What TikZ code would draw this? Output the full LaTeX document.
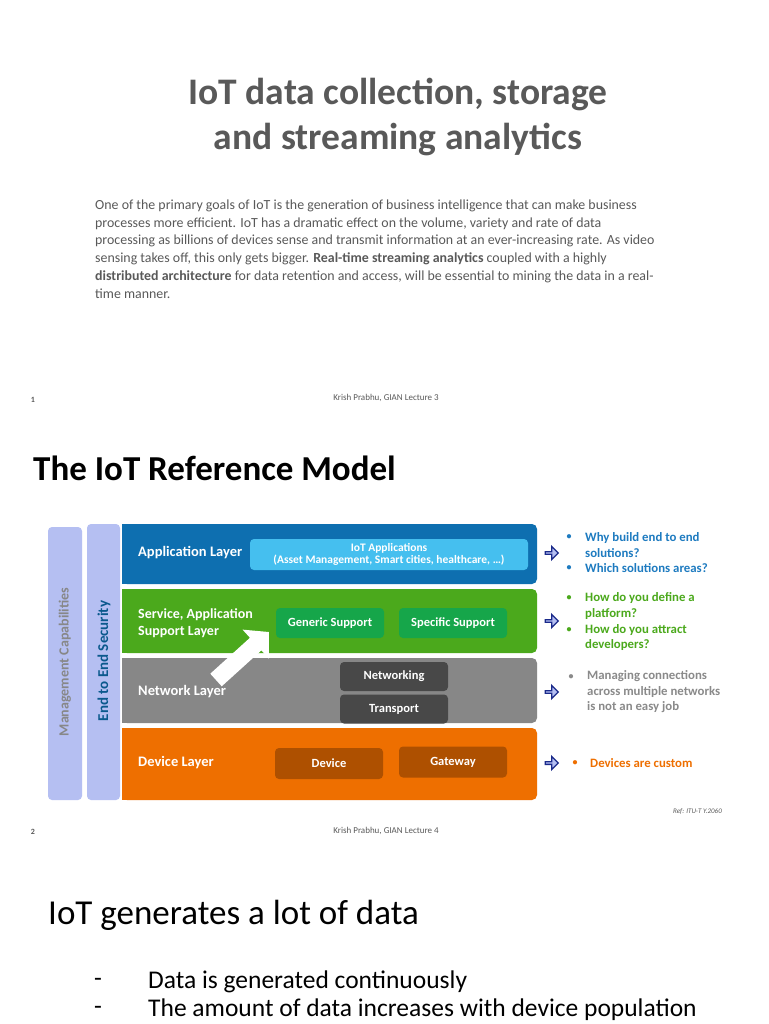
\documentclass[tikz,border=0pt]{standalone}
\usepackage{fontspec}
\setmainfont{Carlito}
\usetikzlibrary{shapes.arrows,arrows.meta}
\definecolor{tgray}{HTML}{595959}
\definecolor{appblue}{HTML}{0E6FB0}
\definecolor{lblue}{HTML}{45BFEF}
\definecolor{sgreen}{HTML}{4BA91C}
\definecolor{dgreen}{HTML}{16A64A}
\definecolor{ngray}{HTML}{878787}
\definecolor{dgray}{HTML}{484848}
\definecolor{dorange}{HTML}{EE6F00}
\definecolor{brown}{HTML}{AE5000}
\definecolor{lav}{HTML}{B5BFF2}
\definecolor{qblue}{HTML}{1E7BC0}
\definecolor{qgray}{HTML}{8A8A8A}
\definecolor{arrblue}{HTML}{1A2A8A}
\tikzset{
 txt/.style={anchor=west,inner sep=0pt},
 para/.style={txt,text=tgray,font=\fontsize{13.9}{15}\selectfont},
 layer/.style={rounded corners=5pt,inner sep=0pt},
 inbox/.style={rounded corners=4pt,text=white,font=\bfseries\fontsize{12.5}{14}\selectfont,inner sep=0pt,align=center},
 llab/.style={txt,text=white,font=\bfseries\fontsize{14.5}{18}\selectfont,align=left},
 side/.style={fill=lav,rounded corners=4pt},
 q/.style={txt,font=\bfseries\fontsize{12.8}{15.5}\selectfont,align=left},
 bul/.style={inner sep=0pt,font=\bfseries\fontsize{10}{12}\selectfont},
 sarrow/.style={single arrow,draw=arrblue,fill=lav,line width=1.3pt,minimum height=13pt,minimum width=13pt,single arrow head extend=2.5pt,inner sep=0pt}
}
\begin{document}
\begin{tikzpicture}[x=1pt,y=-1pt]
\useasboundingbox (0,0) rectangle (768,1024);
\fill[white] (0,0) rectangle (768,1024);
% title
\node[text=tgray,font=\bfseries\fontsize{37.5}{45}\selectfont,align=center,inner sep=0pt] (title) at (398,117) {IoT data collection, storage\\ and streaming analytics};
\node[para] (p1) at (95,206) {One of the primary goals of IoT is the generation of business intelligence that can make business};
\node[para] (p2) at (95,223.6) {processes more efficient. IoT has a dramatic effect on the volume, variety and rate of data};
\node[para] (p3) at (95,241.2) {processing as billions of devices sense and transmit information at an ever-increasing rate. As video};
\node[para] (p4) at (95,258.8) {sensing takes off, this only gets bigger. \textbf{Real-time streaming analytics} coupled with a highly};
\node[para] (p5) at (95,276.4) {\textbf{distributed architecture} for data retention and access, will be essential to mining the data in a real-};
\node[para] (p6) at (95,294) {time manner.};
\node[inner sep=0pt,font=\bfseries\fontsize{8}{9}\selectfont,text=tgray] (n1) at (33,400) {1};
\node[inner sep=0pt,font=\fontsize{9}{9}\selectfont,text=tgray] (f1) at (386,398) {Krish Prabhu, GIAN Lecture 3};
% slide 2
\node[txt,font=\bfseries\fontsize{35}{40}\selectfont] (t2) at (33,468) {The IoT Reference Model};
\fill[side] (48,527) rectangle (82,800);
\fill[side] (87,524) rectangle (120,800);
\node[rotate=90,text=ngray,font=\bfseries\fontsize{14}{16}\selectfont] (mc) at (65,662) {Management Capabilities};
\node[rotate=90,text=appblue!80!black,font=\bfseries\fontsize{15}{16}\selectfont] (ee) at (104,661) {End to End Security};
\fill[appblue,layer] (122,524) rectangle (537,584);
\fill[sgreen,layer] (122,589) rectangle (537,653);
\fill[ngray,layer] (122,658) rectangle (537,723);
\fill[dorange,layer] (122,728) rectangle (537,800);
\fill[appblue] (122,524) rectangle (130,584);
\fill[sgreen] (122,589) rectangle (130,653);
\fill[ngray] (122,658) rectangle (130,723);
\fill[dorange] (122,728) rectangle (130,800);
\node[llab] (al) at (138,553) {Application Layer};
\node[llab,font=\bfseries\fontsize{14}{17.5}\selectfont] (sl) at (138,623) {Service, Application\\Support Layer};
\node[llab] (nl) at (138,692) {Network Layer};
\node[llab] (dl) at (138,763) {Device Layer};
\node[inbox,fill=lblue,minimum width=278pt,minimum height=31pt,font=\bfseries\fontsize{11.5}{11.5}\selectfont] (iot) at (389,554.5) {IoT Applications\\(Asset Management, Smart cities, healthcare, \dots)};
\node[inbox,fill=dgreen,minimum width=108pt,minimum height=30pt] (gs) at (330,623) {Generic Support};
\node[inbox,fill=dgreen,minimum width=108pt,minimum height=30pt] (ss) at (453,623) {Specific Support};
\node[inbox,fill=dgray,minimum width=108pt,minimum height=29pt] (nw) at (394,676.5) {Networking};
\node[inbox,fill=dgray,minimum width=108pt,minimum height=29pt] (tr) at (394,709) {Transport};
\node[inbox,fill=brown,minimum width=108pt,minimum height=31pt] (dv) at (329,763.5) {Device};
\node[inbox,fill=brown,minimum width=108pt,minimum height=31pt] (gw) at (453,762) {Gateway};
\draw[white,line width=17pt,-{Triangle[length=18pt,width=38pt]}] (216,680) -- (269,632);
% small arrows
\foreach \yy/\nm in {553/a1,621/a2,692/a3,763/a4}{
 \node[sarrow] (\nm) at (551,\yy) {};
}
% right questions
\node[bul,text=qblue] (b1) at (569,537) {•};
\node[bul,text=qblue] (b2) at (569,568) {•};
\node[q,text=qblue] (q1) at (585,545) {Why build end to end\\solutions?};
\node[q,text=qblue] (q2) at (585,568) {Which solutions areas?};
\node[bul,text=sgreen] (b3) at (569,598) {•};
\node[bul,text=sgreen] (b4) at (569,630) {•};
\node[q,text=sgreen] (q3) at (585,606) {How do you define a\\platform?};
\node[q,text=sgreen] (q4) at (585,637.5) {How do you attract\\developers?};
\node[bul,text=qgray] (b5) at (571,677) {•};
\node[q,text=qgray] (q5) at (587,692) {Managing connections\\across multiple networks\\is not an easy job};
\node[bul,text=dorange] (b6) at (575,763) {•};
\node[q,text=dorange] (q6) at (590,763) {Devices are custom};
\node[anchor=east,inner sep=0pt,text=tgray,font=\itshape\fontsize{7}{7}\selectfont] (ref) at (722,812) {Ref: ITU-T Y.2060};
\node[inner sep=0pt,font=\bfseries\fontsize{8}{9}\selectfont,text=tgray] (n2) at (33,832) {2};
\node[inner sep=0pt,font=\fontsize{9}{9}\selectfont,text=tgray] (f2) at (386,831) {Krish Prabhu, GIAN Lecture 4};
% slide 3
\node[txt,font=\fontsize{35}{40}\selectfont] (t3) at (48,915) {IoT generates a lot of data};
\node[txt,font=\fontsize{25.5}{28}\selectfont] (d1) at (94,982) {-};
\node[txt,font=\fontsize{25.5}{28}\selectfont] (l1) at (148,982) {Data is generated continuously};
\node[txt,font=\fontsize{25.5}{28}\selectfont] (d2) at (94,1010) {-};
\node[txt,font=\fontsize{25.5}{28}\selectfont] (l2) at (148,1010) {The amount of data increases with device population};
\end{tikzpicture}
\end{document}
